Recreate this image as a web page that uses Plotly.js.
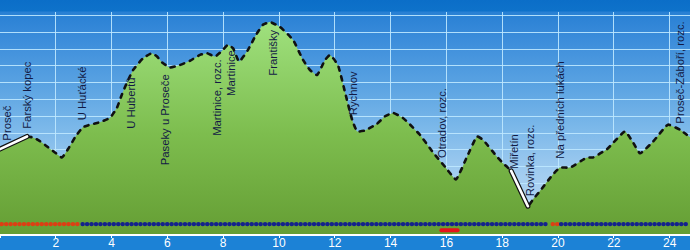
<!DOCTYPE html>
<html>
<head>
<meta charset="utf-8">
<script src="https://cdn.plot.ly/plotly-3.0.1.min.js"></script>
<style>
  html, body { margin: 0; padding: 0; }
  #chart {
    width: 690px; height: 250px;
    background: linear-gradient(to bottom,
      #0b6ec8 0px, #0e72ca 11px, #2880d4 12px, #3c8ddb 40px,
      #5aa3e2 85px, #7db9ea 130px, #a3cdf0 175px, #bcdaf4 234px,
      #1c82d6 234px, #1c82d6 250px);
  }
  .js-line { stroke-linecap: round; }
</style>
</head>
<body>
<div id="chart"></div>
<script>
// Elevation profile (distance in km, elevation in m)
const km = [0, 0.97, 1.15, 1.36, 1.65, 1.97, 2.22, 2.44, 2.69, 2.97, 3.23, 3.58, 3.94, 4.19, 4.37, 4.55, 4.77,
  5.13, 5.45, 5.63, 5.81, 6.09, 6.45, 6.81, 7.17, 7.42, 7.71, 7.96, 8.17, 8.35, 8.57, 8.89, 9.18, 9.43, 9.68,
  10.04, 10.50, 10.86, 11.11, 11.36, 11.65, 11.83, 12.11, 12.37, 12.62, 12.80, 13.08, 13.51, 13.80, 14.09,
  14.44, 14.70, 15.05, 15.52, 15.95, 16.34, 16.74, 17.10, 17.31, 17.81, 18.03, 18.32, 18.92, 19.10, 19.35,
  19.82, 20.07, 20.43, 21.04, 21.25, 21.76, 22.40, 22.65, 22.94, 23.41, 23.94, 24.37, 24.73];
const elev = [501, 516, 515, 512, 505, 497, 491, 501, 515, 527, 530, 533, 538, 550, 566, 580, 595,
  609, 615, 611, 604, 598, 601, 606, 613, 615, 611, 618, 625, 621, 605, 619, 637, 649, 652,
  646, 631, 607, 595, 589, 607, 613, 601, 568, 536, 522, 523, 531, 540, 544,
  538, 530, 518, 497, 480, 465, 492, 516, 512, 492, 484, 475, 433, 441, 451,
  471, 479, 479, 491, 491, 501, 522, 511, 496, 510, 530, 524, 515];

// Waypoint labels
const wpNames = ["Proseč", "Farský kopec", "U Huťácké", "U Hubertů", "Paseky u Proseče", "Martinice, rozc.",
  "Martinice", "Františky", "Rychnov", "Otradov, rozc.", "Miřetín", "Rovinka, rozc.", "Na předních lukách",
  "Proseč-Záboří, rozc."];
const wpKm = [0.22, 0.97, 2.94, 4.70, 5.91, 7.78, 8.28, 9.78, 12.65, 15.84, 18.42, 19.00, 20.07, 24.37];
const wpLabelElev = [510, 524, 534, 524, 481, 515, 563, 587, 540, 489, 477, 444, 489, 530];

// Highlighted sections of the route
const hlFrom = [0, 18.32];
const hlTo = [0.97, 18.92];

// Surface strip segments
const surfFrom = [0, 2.9, 19.75, 20.05];
const surfTo = [2.9, 19.75, 20.05, 24.73];
const surfKind = ["road", "path", "road", "path"];
// Lower marker segments
const markFrom = [15.77];
const markTo = [16.45];

const X_MAX = 24.73;
const Y_MIN = 400, Y_MAX = 664;
const STRIP_Y = 411.8, MARK_Y = 404.6;
const surfColor = { road: "#dc3f14", path: "#14228c" };

const traces = [];
traces.push({
  x: km, y: elev, type: "scatter", mode: "lines",
  fill: "tozeroy",
  fillgradient: { type: "vertical", start: Y_MIN, stop: Y_MAX,
    colorscale: [[0, "#659e34"], [0.45, "#7dbd4e"], [1, "#a2e482"]] },
  line: { color: "#111111", width: 2.6, dash: "4px,6px", shape: "spline", smoothing: 0.4 },
  hoverinfo: "skip"
});
for (let i = 0; i < hlFrom.length; i++) {
  const hx = [], hy = [];
  km.forEach((k, j) => { if (k >= hlFrom[i] - 1e-9 && k <= hlTo[i] + 1e-9) { hx.push(k); hy.push(elev[j]); } });
  traces.push({ x: hx, y: hy, type: "scatter", mode: "lines", line: { color: "#111111", width: 5 }, hoverinfo: "skip" });
  traces.push({ x: hx, y: hy, type: "scatter", mode: "lines", line: { color: "#ffffff", width: 2.6 }, hoverinfo: "skip" });
}
for (let i = 0; i < surfFrom.length; i++) {
  traces.push({ x: [surfFrom[i] + 0.06, surfTo[i] - 0.06], y: [STRIP_Y, STRIP_Y], type: "scatter", mode: "lines",
    line: { color: surfColor[surfKind[i]], width: 4.4, dash: "0.1px,4.35px" }, hoverinfo: "skip" });
}
for (let i = 0; i < markFrom.length; i++) {
  traces.push({ x: [markFrom[i] + 0.05, markTo[i] - 0.05], y: [MARK_Y, MARK_Y], type: "scatter", mode: "lines",
    line: { color: "#e5141a", width: 4 }, hoverinfo: "skip" });
}

const annotations = wpNames.map((n, i) => ({
  x: wpKm[i], y: wpLabelElev[i], xref: "x", yref: "y", text: n, showarrow: false,
  textangle: -90, xanchor: "center", yanchor: "bottom", borderpad: 0,
  font: { family: "Liberation Sans, Arial, sans-serif", size: 11.3, color: "#121a44" }
}));

const layout = {
  width: 690, height: 250,
  margin: { l: 0, r: 0, t: 12, b: 16 },
  paper_bgcolor: "rgba(0,0,0,0)", plot_bgcolor: "rgba(0,0,0,0)",
  showlegend: false,
  xaxis: {
    range: [0, X_MAX], tick0: 0, dtick: 2, showgrid: true, gridcolor: "rgba(190,232,255,0.9)", gridwidth: 1,
    zeroline: false, showline: true, linecolor: "#ffffff", linewidth: 2,
    ticks: "outside", ticklen: 2, tickcolor: "#ffffff", tickwidth: 1, ticklabelstandoff: -5,
    tickfont: { family: "Liberation Sans, Arial, sans-serif", size: 12, color: "#ffffff" }
  },
  yaxis: {
    range: [Y_MIN, Y_MAX], tick0: 400, dtick: 20, showgrid: true, gridcolor: "rgba(190,232,255,0.9)", gridwidth: 1,
    zeroline: false, showticklabels: false, ticks: "", showline: false
  },
  annotations: annotations
};

Plotly.newPlot("chart", traces, layout, { staticPlot: true, displayModeBar: false });
</script>
</body>
</html>
